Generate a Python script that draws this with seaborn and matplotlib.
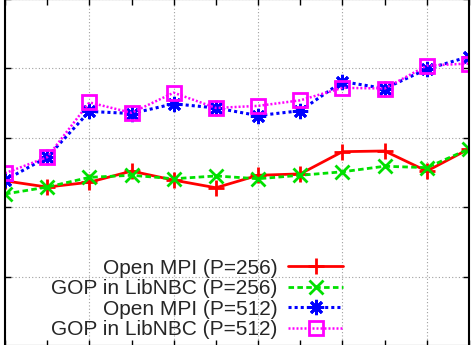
import matplotlib
matplotlib.use("Agg")
import matplotlib.pyplot as plt
import seaborn as sns
import pandas as pd
import numpy as np
from matplotlib.ticker import MultipleLocator, NullFormatter

sns.set_style("white")
plt.rcParams['font.family'] = ['Liberation Sans', 'DejaVu Sans']

x_idx = list(range(12))
openmpi_256 = [2.38, 2.29, 2.36, 2.52, 2.39, 2.28, 2.46, 2.48, 2.80, 2.81, 2.52, 2.84]
gop_256 = [2.19, 2.29, 2.43, 2.46, 2.41, 2.45, 2.41, 2.46, 2.51, 2.59, 2.57, 2.84]
openmpi_512 = [2.39, 2.72, 3.38, 3.35, 3.49, 3.43, 3.32, 3.39, 3.81, 3.71, 3.99, 4.17]
gop_512 = [2.49, 2.72, 3.51, 3.36, 3.65, 3.43, 3.46, 3.54, 3.72, 3.71, 4.04, 4.07]
labels = ["Open MPI (P=256)", "GOP in LibNBC (P=256)", "Open MPI (P=512)", "GOP in LibNBC (P=512)"]

fig = plt.figure(figsize=(4.74, 3.45), dpi=100)
ax = fig.add_axes([5/474, -1/345, 464/474, 347/345])

styles = [
    dict(color="#ff0000", marker="+", markersize=12, markeredgewidth=2, markeredgecolor="#ff0000",
         linestyle="-", linewidth=2),
    dict(color="#00e000", marker="x", markersize=10, markeredgewidth=2, markeredgecolor="#00e000",
         linestyle=(0, (2, 1.2)), linewidth=2),
    dict(color="#0000ff", marker=(8, 2, 0), markersize=11, markeredgewidth=2, markeredgecolor="#0000ff",
         linestyle=(0, (1, 1)), linewidth=2.2),
    dict(color="#ff00ff", marker="s", markersize=10, markeredgewidth=2, markeredgecolor="#ff00ff",
         markerfacecolor="none", linestyle=(0, (0.8, 0.8)), linewidth=1.8),
]
series = [openmpi_256, gop_256, openmpi_512, gop_512]
for vals, lab, st in zip(series, labels, styles):
    df = pd.DataFrame({"x": x_idx, "y": vals})
    sns.lineplot(data=df, x="x", y="y", ax=ax, label=lab, **st)

ax.set_xlim(0, 11)
ax.set_ylim(0, 5.0)
ax.xaxis.set_major_locator(MultipleLocator(2))
ax.xaxis.set_minor_locator(MultipleLocator(1))
ax.yaxis.set_major_locator(MultipleLocator(1))
ax.xaxis.set_major_formatter(NullFormatter())
ax.yaxis.set_major_formatter(NullFormatter())
ax.tick_params(which="both", direction="in", top=True, right=True, bottom=True, left=True,
               length=4, width=1, color="black")
ax.grid(True, which="major", color="#a0a0a0", linestyle=(0, (1, 2)), linewidth=0.8)
ax.set_xlabel("")
ax.set_ylabel("")
for s in ax.spines.values():
    s.set_color("black")
    s.set_linewidth(1.5)

leg = ax.legend(loc="lower right", bbox_to_anchor=(343/474, 6/345), bbox_transform=fig.transFigure,
                frameon=False, markerfirst=False, fontsize=15, handlelength=2.64,
                handletextpad=0.5, labelspacing=0.07, borderpad=0, borderaxespad=0)

fig.savefig("out.png", dpi=100)
